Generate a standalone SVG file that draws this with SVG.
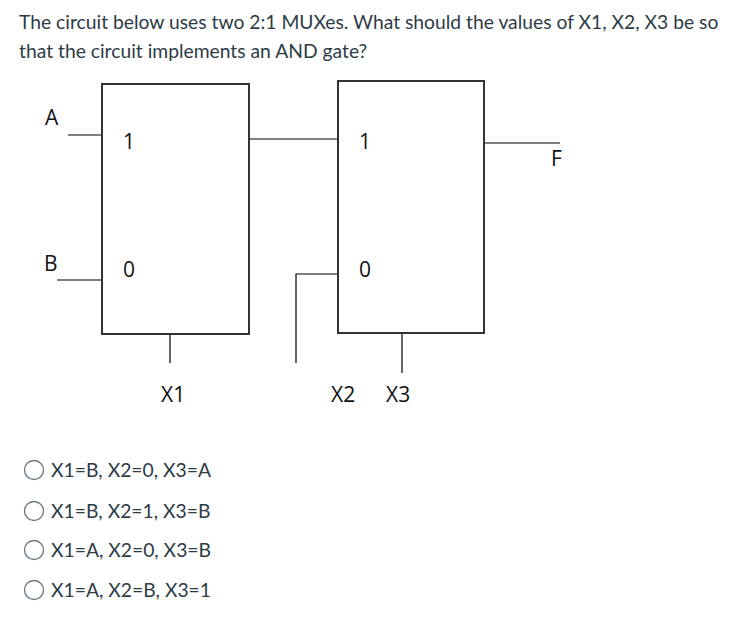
<svg xmlns="http://www.w3.org/2000/svg" width="736" height="621" viewBox="0 0 736 621">
<style>
.t{font-family:Lato,"Liberation Sans",sans-serif;font-size:19.3px;fill:#2d3b45}
.d{font-family:"Open Sans","Liberation Sans",sans-serif;font-size:21px;fill:#111}
.w{stroke:#000;stroke-width:1.2;fill:none}
.b{stroke:#333;stroke-width:2;fill:#fff}
.r{stroke:#6b7780;stroke-width:1.3;fill:#fff}
</style>
<rect width="736" height="621" fill="#fff"/>
<text class="t" x="19" y="29">The circuit below uses two 2:1 MUXes. What should the values of X1, X2, X3 be so</text>
<text class="t" x="19" y="58">that the circuit implements an AND gate?</text>
<g id="connectors">
<path class="w" d="M68 135H102M57 280H102M250 139H343M484 143H560M296 363V274H338M170 335V363M402 333V373"/>
</g>
<g id="mux1"><rect class="b" x="102" y="84" width="147" height="250"/>
<text class="d" x="123" y="149">1</text><text class="d" x="123" y="277">0</text></g>
<g id="mux2"><rect class="b" x="338" y="81" width="146" height="252"/>
<text class="d" x="359" y="149">1</text><text class="d" x="359" y="277">0</text></g>
<g id="labels">
<text class="d" x="45" y="125">A</text><text class="d" x="44" y="271">B</text>
<text class="d" x="551" y="166">F</text>
<text class="d" x="161" y="402">X1</text><text class="d" x="331" y="402">X2</text><text class="d" x="386" y="402">X3</text>
</g>
<g id="options">
<circle class="r" cx="34" cy="470" r="9.5"/><text class="t" x="51" y="477">X1=B, X2=0, X3=A</text>
<circle class="r" cx="34" cy="511" r="9.5"/><text class="t" x="51" y="518">X1=B, X2=1, X3=B</text>
<circle class="r" cx="34" cy="550" r="9.5"/><text class="t" x="51" y="557">X1=A, X2=0, X3=B</text>
<circle class="r" cx="34" cy="590" r="9.5"/><text class="t" x="51" y="597">X1=A, X2=B, X3=1</text>
</g>
</svg>
